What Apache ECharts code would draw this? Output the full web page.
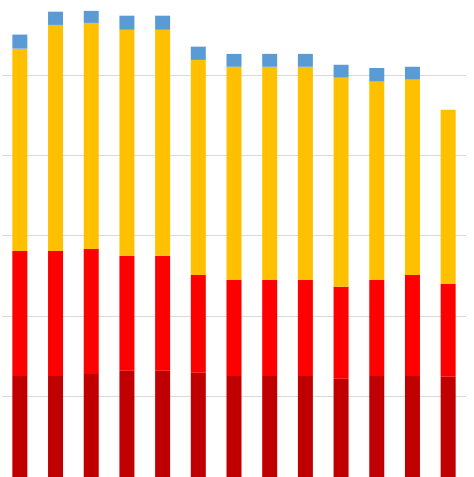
<!DOCTYPE html>
<html>
<head>
    <meta charset="utf-8">
    <script src="https://cdn.jsdelivr.net/npm/echarts@6/dist/echarts.min.js"></script>
    <style>html,body{margin:0;padding:0;background:#fff}</style>
</head>
<body>
<div id="main" style="width:474px;height:477px"></div>
<script type="text/javascript">
    var categories = ['1', '2', '3', '4', '5', '6', '7', '8', '9', '10', '11', '12', '13'];
    var darkRed = [25.1, 25.1, 25.6, 26.4, 26.4, 25.9, 25.1, 25.1, 25.1, 24.4, 25.1, 25.1, 24.9];
    var red = [31.1, 31.1, 31.1, 28.6, 28.6, 24.3, 23.9, 23.9, 23.9, 22.9, 23.9, 25.1, 23.1];
    var yellow = [50.3, 56.2, 56.2, 56.2, 56.2, 53.5, 53, 53, 53, 52, 49.3, 48.6, 43.3];
    var blue = [3.5, 3.3, 3, 3.5, 3.5, 3.3, 3.2, 3.2, 3.2, 3.2, 3.4, 3.2, 0];

    var chart = echarts.init(document.getElementById('main'));

    function bar(name, data, color) {
        return {name: name, type: 'bar', stack: 'all', barWidth: 15, data: data, itemStyle: {color: color}};
    }

    var option = {
        animation: false,
        grid: {left: 2, right: 8, top: 0, bottom: 0},
        xAxis: {
            type: 'category',
            data: categories,
            axisLine: {show: false},
            axisTick: {show: false},
            axisLabel: {show: false}
        },
        yAxis: {
            type: 'value',
            min: 0,
            max: 118.6,
            interval: 20,
            axisLabel: {show: false},
            splitLine: {showMaxLine: false, lineStyle: {color: '#d9d9d9'}}
        },
        series: [
            bar('a', darkRed, '#C00000'),
            bar('b', red, '#FF0000'),
            bar('c', yellow, '#FFC000'),
            bar('d', blue, '#5B9BD5')
        ]
    };
    chart.setOption(option);
</script>
</body>
</html>
